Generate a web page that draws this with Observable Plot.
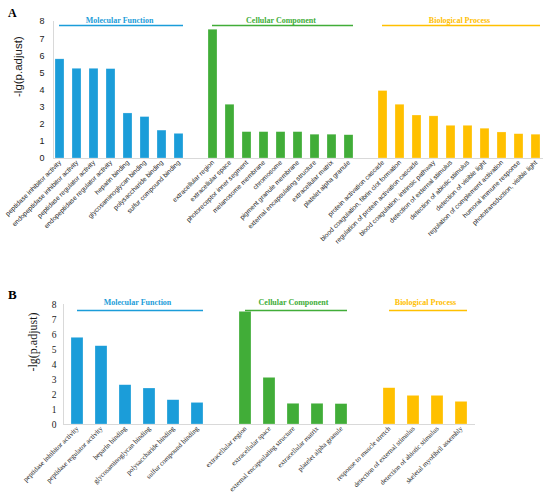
<!DOCTYPE html>
<html><head><meta charset="utf-8">
<script src="https://cdn.jsdelivr.net/npm/d3@7"></script>
<script src="https://cdn.jsdelivr.net/npm/@observablehq/plot@0.6"></script>
<style>
body{margin:0;background:#fff}
#wrap{position:relative;width:550px;height:502px;overflow:hidden;background:#fff}
.panel{position:absolute;left:0}
.tag{position:absolute;font-family:"Liberation Serif","Times New Roman",serif;font-weight:bold;line-height:1.15}
</style></head><body>
<div id="wrap">
<div id="pa" class="panel" style="top:0px"></div>
<div id="pb" class="panel" style="top:278px"></div>
<div class="tag" style="left:8px;top:7px;font-size:12px">A</div>
<div class="tag" style="left:8px;top:288px;font-size:13px">B</div>
</div>
<script>
const groups = ["Molecular Function", "Cellular Component", "Biological Process"];
const groupColors = ["#1B9DD9", "#41AD38", "#FFC000"];
const yTicks = [0, 1, 2, 3, 4, 5, 6, 7, 8];
const yLabel = "-lg(p.adjust)";

// Panel A
const mfTermsA = ["peptidase inhibitor activity", "endopeptidase inhibitor activity", "peptidase regulator activity", "endopeptidase regulator activity", "heparin binding", "glycosaminoglycan binding", "polysaccharide binding", "sulfur compound binding"];
const mfValuesA = [5.79, 5.24, 5.24, 5.22, 2.63, 2.42, 1.63, 1.44];
const ccTermsA = ["extracellular region", "extracellular space", "photoreceptor inner segment", "melanosome membrane", "chromosome", "pigment granule membrane", "external encapsulating structure", "extracellular matrix", "platelet alpha granule"];
const ccValuesA = [7.52, 3.14, 1.54, 1.54, 1.54, 1.54, 1.39, 1.39, 1.36];
const bpTermsA = ["protein activation cascade", "blood coagulation, fibrin clot formation", "regulation of protein activation cascade", "blood coagulation, intrinsic pathway", "detection of external stimulus", "detection of abiotic stimulus", "detection of visible light", "regulation of complement activation", "humoral immune response", "phototransduction, visible light"];
const bpValuesA = [3.94, 3.14, 2.51, 2.46, 1.91, 1.91, 1.74, 1.52, 1.42, 1.39];

// Panel B
const mfTermsB = ["peptidase inhibitor activity", "peptidase regulator activity", "heparin binding", "glycosaminoglycan binding", "polysaccharide binding", "sulfur compound binding"];
const mfValuesB = [5.78, 5.22, 2.62, 2.40, 1.62, 1.44];
const ccTermsB = ["extracellular region", "extracellular space", "external encapsulating structure", "extracellular matrix", "platelet alpha granule"];
const ccValuesB = [7.51, 3.11, 1.38, 1.38, 1.36];
const bpTermsB = ["response to muscle stretch", "detection of external stimulus", "detection of abiotic stimulus", "skeletal myofibril assembly"];
const bpValuesB = [2.42, 1.91, 1.91, 1.51];

function makePanel(cfg) {
  const termSets = cfg.terms, valueSets = cfg.values;
  const rows = [];
  const domain = [];
  termSets.forEach((terms, gi) => {
    if (gi > 0) domain.push("__gap" + gi);
    terms.forEach((t, i) => {
      const key = gi + ":" + t;
      domain.push(key);
      rows.push({key, term: t, value: valueSets[gi][i], group: groups[gi]});
    });
  });
  const labelOf = k => k.startsWith("__gap") ? "" : k.slice(k.indexOf(":") + 1);
  const headerRules = termSets.map((terms, gi) => {
    const n = terms.length;
    return {
      group: groups[gi],
      first: gi + ":" + terms[0],
      last: gi + ":" + terms[n - 1],
      mid: gi + ":" + terms[Math.floor((n - 1) / 2)],
      even: n % 2 === 0,
      y: yTicks[yTicks.length - 1]
    };
  });
  const marks = [
    Plot.ruleY([0], {stroke: "#d9d9d9", strokeWidth: 1}),
    Plot.frame({anchor: "left", stroke: "#d9d9d9"}),
    Plot.barY(rows, {x: "key", y: "value", fill: "group", stroke: "#ffffff", strokeOpacity: 0.5, strokeWidth: 0.5}),
    Plot.axisX({tickRotate: -45, tickSize: 0, tickPadding: cfg.xPad, tickFormat: labelOf, fontSize: cfg.xFont, fontFamily: cfg.font, fill: "#1a1a1a", label: null}),
    Plot.axisY({ticks: yTicks, tickSize: 0, tickPadding: cfg.yPad, fontSize: cfg.yFont, fontFamily: cfg.font, fill: "#1a1a1a", label: null}),
    Plot.text([yLabel], {frameAnchor: "left", rotate: -90, dx: cfg.labDx, dy: cfg.labDy, fontSize: cfg.labFont, fontFamily: cfg.font, fill: "#1a1a1a"}),
    Plot.ruleY(headerRules, {x1: "first", x2: "last", y: "y", stroke: "group", strokeWidth: 1.6, dy: cfg.ruleDy, insetLeft: cfg.ruleInset}),
    Plot.text(headerRules.filter(d => d.even), {
      x: "mid", y: "y", text: "group", fill: "group",
      dx: cfg.step / 2, dy: cfg.textDy,
      fontSize: cfg.headFont, fontWeight: "bold", fontFamily: "Liberation Serif, Times New Roman, serif"
    }),
    Plot.text(headerRules.filter(d => !d.even), {
      x: "mid", y: "y", text: "group", fill: "group",
      dy: cfg.textDy,
      fontSize: cfg.headFont, fontWeight: "bold", fontFamily: "Liberation Serif, Times New Roman, serif"
    })
  ];
  return Plot.plot({
    width: 550,
    height: cfg.height,
    marginLeft: cfg.ml, marginRight: cfg.mr, marginTop: cfg.mt, marginBottom: cfg.mb,
    style: {background: "#fff", overflow: "visible"},
    x: {domain, paddingInner: cfg.pi, paddingOuter: cfg.po, axis: null},
    y: {domain: [yTicks[0], yTicks[yTicks.length - 1]], axis: null},
    color: {domain: groups, range: groupColors},
    marks
  });
}

document.getElementById("pa").append(makePanel({
  terms: [mfTermsA, ccTermsA, bpTermsA],
  values: [mfValuesA, ccValuesA, bpValuesA],
  height: 252, ml: 53, mr: 7, mt: 21, mb: 94,
  pi: 0.47, po: 0.1, step: 17.06,
  font: "Liberation Sans, Arial, sans-serif",
  xFont: 6.6, xPad: 3, yFont: 9, yPad: 9,
  labDx: -35, labDy: 7, labFont: 11.5,
  headFont: 8, textDy: -1, ruleDy: 4, ruleInset: 4
}));

document.getElementById("pb").append(makePanel({
  terms: [mfTermsB, ccTermsB, bpTermsB],
  values: [mfValuesB, ccValuesB, bpValuesB],
  height: 224, ml: 63, mr: 75, mt: 26, mb: 78,
  pi: 0.5, po: 0.333, step: 24,
  font: "Liberation Serif, Times New Roman, serif",
  xFont: 7, xPad: 3, yFont: 9.5, yPad: 7,
  labDx: -30, labDy: 7, labFont: 12,
  headFont: 8, textDy: -2, ruleDy: 6, ruleInset: 6
}));
</script>
</body></html>
